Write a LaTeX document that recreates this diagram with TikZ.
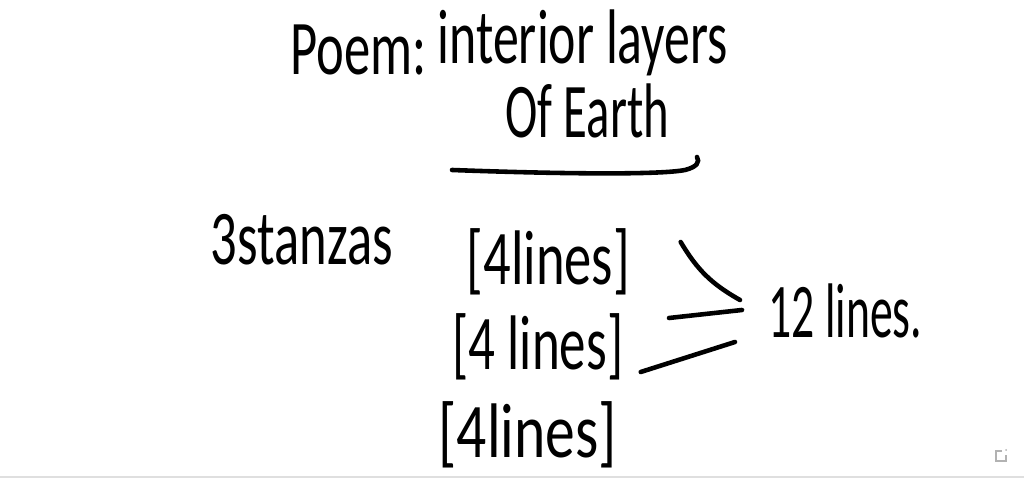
\documentclass[tikz,border=0pt]{standalone}
\usepackage{fontspec}
\setmainfont{Carlito}
\usepackage{graphicx}
\newcommand{\hand}[2][.66]{\scalebox{#1}[1]{#2}}
\tikzset{
  note/.style={anchor=base west, inner sep=0pt, font=\fontsize{22}{26}\selectfont},
  link/.style={line width=1.3pt, line cap=round},
}
\begin{document}
\begin{tikzpicture}[x=0.01cm, y=-0.01cm]
  \useasboundingbox (0,0) rectangle (1024,480);
  % title
  \node[note] (poem) at (290,75) {\hand[.68]{Poem:}};
  \node[note] (layers) at (437,64) {\hand[.67]{interior layers}};
  \node[note] (earth) at (505,138) {\hand[.63]{Of Earth}};
  \draw[link] (452,170) .. controls (560,174) and (660,175) .. (685,170)
    .. controls (697,167) and (700,162) .. (697,157);
  % stanzas
  \node[note] (stanzas) at (210,265) {\hand[.68]{3stanzas}};
  \node[note] (s1) at (466,285) {\hand[.705]{[4lines]}};
  \node[note] (s2) at (452,370) {\hand[.685]{[4 lines]}};
  \node[note] (s3) at (438,458) {\hand[.77]{[4lines]}};
  \node[note] (total) at (768,338) {\hand[.59]{12 lines.}};
  \draw[link] ([shift={(50,-43)}]s1.base east) to[bend right=15] ([shift={(-28,-38)}]total.base west);
  \draw[link] ([shift={(45,-52)}]s2.base east) -- ([shift={(-26,-28)}]total.base west);
  \draw[link] ([shift={(23,-86)}]s3.base east) -- ([shift={(-33,4)}]total.base west);
  % corner icon
  \draw[gray!60, line width=.5pt] (1002,451) -- (996,451) -- (996,461) -- (1006,461) -- (1006,455);
  \fill[gray!60] (1006,450) circle (1);
  \draw[gray!25, line width=.5pt] (0,477) -- (1024,477);
\end{tikzpicture}
\end{document}
